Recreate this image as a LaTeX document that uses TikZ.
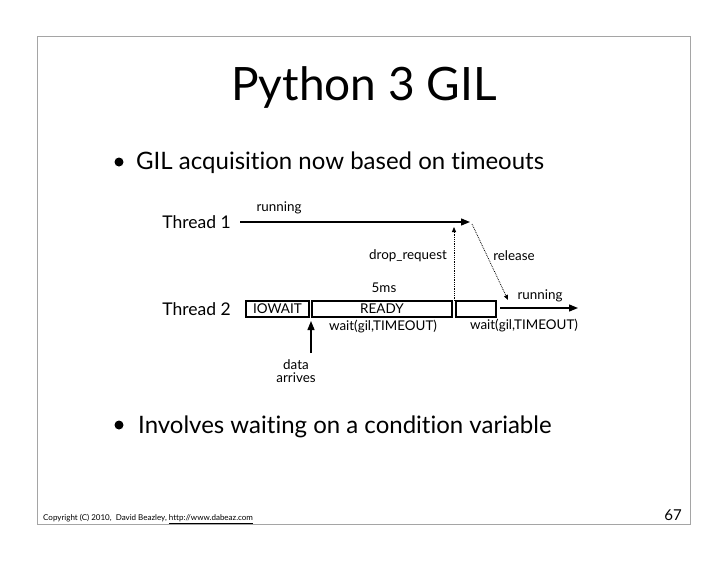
\documentclass[tikz,border=0pt]{standalone}
\usepackage{fontspec}
\setmainfont{Lato}[Ligatures={NoCommon}]
\usetikzlibrary{arrows.meta,positioning}
\definecolor{framegray}{RGB}{165,165,165}
\begin{document}
\begin{tikzpicture}[x=1pt,y=-1pt,>={Triangle[length=9pt,width=7pt]},
				thread/.style={anchor=base east, inner sep=0pt, font=\fontsize{17.5}{20}\selectfont}
				,state/.style={draw, line width=1.1pt, minimum height=16pt, inner sep=0pt, font=\fontsize{13.5}{15}\selectfont}
				,small/.style={inner sep=1pt, font=\fontsize{13.4}{15}\selectfont}
				,point/.style={anchor=base west, inner sep=0pt, font=\fontsize{24}{28}\selectfont}
				,dot/.style={circle, fill, inner sep=0pt, minimum size=9pt}
				,run/.style={line width=1.3pt,->}
				,signal/.style={densely dotted, line width=0.8pt, ->, >={Triangle[length=5pt,width=4pt]}}
				]
				\useasboundingbox (0,0) rectangle (728,563);
				\draw[framegray, line width=0.8pt] (37,36) rectangle (690,524);
				
				\node[anchor=base, inner sep=0pt, font=\fontsize{46}{54}\selectfont] (t) at (364,100) {Python 3 GIL};
				\node[dot] (p1) at (119,162) {};
				\node[point] (b1) at (136,169) {GIL acquisition now based on timeouts};
				\node[dot] (p2) at (119,425) {};
				\node[point] (b2) at (138,433) {Involves waiting on a condition variable};
				
				\node[thread] (th1) at (231,228) {Thread 1};
				\node[thread] (th2) at (231,315) {Thread 2};
				\node[state, minimum width=63pt] (v1) at (277.5,309) {IOWAIT};
				\node[state, minimum width=140pt] (v2) at (382,309) {READY};
				\node[state, minimum width=40pt] (v3) at (476,309) {};
				
				\coordinate (c1) at (240,222);
				\coordinate (c2) at (470,222);
				\coordinate (c3) at (500,308);
				\coordinate (c4) at (578,308);
				\coordinate (c5) at (454,301);
				\coordinate (c6) at (454,227);
				\coordinate (c7) at (472,224);
				\coordinate (c8) at (508,300);
				\coordinate (c9) at (311,353);
				\coordinate (c10) at (311,321);
				
				\draw[run] (c1) -- (c2);
				\draw[run] (c3) -- (c4);
				\draw[signal] (c5) -- (c6);
				\draw[signal] (c7) -- (c8);
				\draw[run] (c9) -- (c10);
				
				\node[small] (l1) at (279,208) {running};
				\node[small] (l2) at (408,256) {drop\_request};
				\node[small] (l3) at (514,256) {release};
				\node[small] (l4) at (384,288) {5ms};
				\node[small] (l5) at (540,296) {running};
				\node[small] (l6) at (383,327) {wait(gil,TIMEOUT)};
				\node[small] (l7) at (524,326) {wait(gil,TIMEOUT)};
				\node[small, align=center] (l8) at (296,371) {data\\[-2pt]arrives};
				
				\node[anchor=base west, inner sep=0pt, font=\fontsize{8}{10}\selectfont] (f1) at (43,520) {Copyright (C) 2010,\ \ David Beazley, \underline{http://www.dabeaz.com}};
				\node[anchor=base east, inner sep=0pt, font=\fontsize{15}{18}\selectfont] (f2) at (682,520) {67};
			\end{tikzpicture}
\end{document}
